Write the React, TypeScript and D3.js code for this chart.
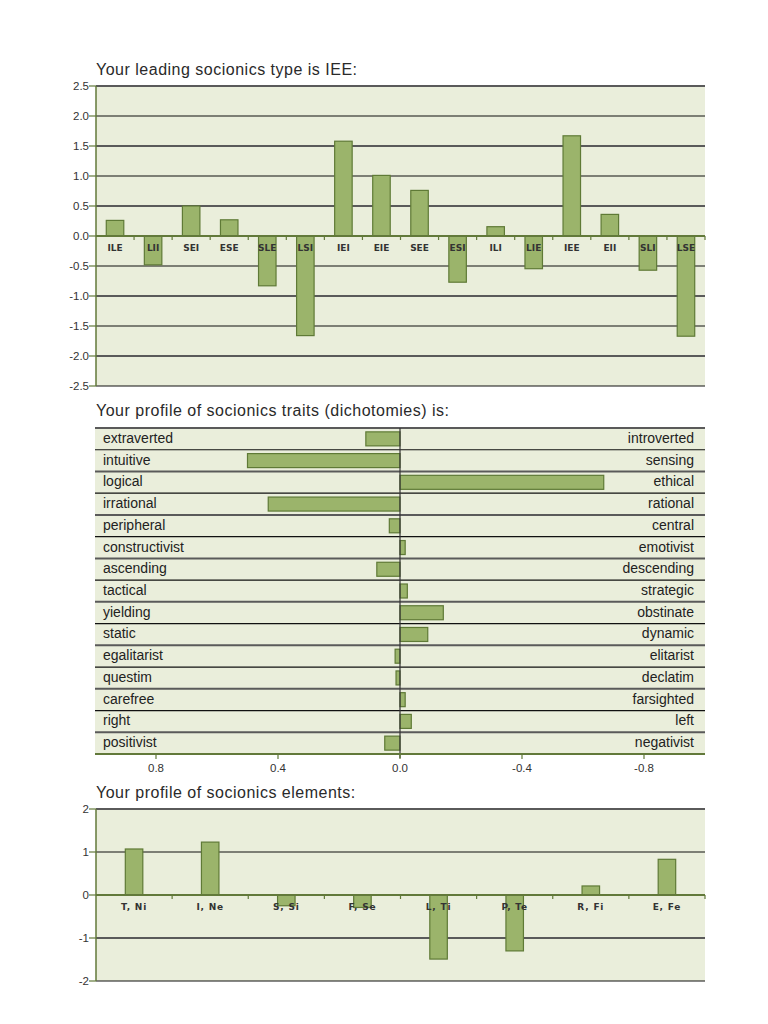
import React from 'react';
import * as d3 from 'd3';

// chart 1: socionics types
const typeNames = ['ILE', 'LII', 'SEI', 'ESE', 'SLE', 'LSI', 'IEI', 'EIE', 'SEE', 'ESI', 'ILI', 'LIE', 'IEE', 'EII', 'SLI', 'LSE'];
const typeScores = [0.26, -0.48, 0.5, 0.27, -0.83, -1.66, 1.58, 1.01, 0.76, -0.77, 0.155, -0.545, 1.67, 0.36, -0.57, -1.67];
const typeTicks = [2.5, 2.0, 1.5, 1.0, 0.5, 0.0, -0.5, -1.0, -1.5, -2.0, -2.5];

// chart 2: dichotomies (positive = left trait)
const leftTraits = ['extraverted', 'intuitive', 'logical', 'irrational', 'peripheral', 'constructivist', 'ascending', 'tactical', 'yielding', 'static', 'egalitarist', 'questim', 'carefree', 'right', 'positivist'];
const rightTraits = ['introverted', 'sensing', 'ethical', 'rational', 'central', 'emotivist', 'descending', 'strategic', 'obstinate', 'dynamic', 'elitarist', 'declatim', 'farsighted', 'left', 'negativist'];
const traitScores = [0.112, 0.5, -0.668, 0.432, 0.035, -0.017, 0.076, -0.024, -0.142, -0.091, 0.016, 0.013, -0.017, -0.037, 0.05];
const traitTicks = [0.8, 0.4, 0.0, -0.4, -0.8];

// chart 3: elements
const elementNames = ['T, Ni', 'I, Ne', 'S, Si', 'F, Se', 'L, Ti', 'P, Te', 'R, Fi', 'E, Fe'];
const elementScores = [1.07, 1.23, -0.25, -0.29, -1.49, -1.3, 0.21, 0.83];
const elementTicks = [2, 1, 0, -1, -2];

const BG = '#eaeedb';
const BAR = '#9bb46b';
const BAR_STROKE = '#5f7a36';
const AXIS = '#62793a';
const FONT = 'Liberation Sans, Arial, sans-serif';
const LABEL_FONT = 'DejaVu Sans, Verdana, sans-serif';

const PL = 96;
const PR = 705;

function gridStyle(i: number) {
  return i % 2 === 0 ? { stroke: '#5a5a5a', width: 2 } : { stroke: '#111', width: 1.2 };
}

function VerticalBars({ names, scores, ticks, top, bottom, fmt, title, labelSpacing }: {
  names: string[]; scores: number[]; ticks: number[]; top: number; bottom: number;
  fmt: (v: number) => string; title: string; labelSpacing: number;
}) {
  const y = d3.scaleLinear().domain([d3.min(ticks)!, d3.max(ticks)!]).range([bottom, top]);
  const x = d3.scaleBand().domain(names).range([PL, PR]);
  const barW = 17.5;
  const y0 = y(0);
  return (
    <g>
      <text x={PL} y={top - 11} fontFamily={FONT} fontSize={16} letterSpacing={0.5} fill="#2a2a2a">{title}</text>
      <rect x={PL} y={top} width={PR - PL} height={bottom - top} fill={BG} />
      {ticks.filter(t => t !== 0).map((t, i) => {
        const s = gridStyle(i);
        return <line key={t} x1={PL} x2={PR} y1={y(t)} y2={y(t)} stroke={s.stroke} strokeWidth={s.width} />;
      })}
      {names.map((n, i) => {
        const v = scores[i];
        const cx = x(n)! + x.bandwidth() / 2;
        return (
          <rect key={n} x={cx - barW / 2} y={Math.min(y(v), y0)} width={barW}
            height={Math.abs(y(v) - y0)} fill={BAR} stroke={BAR_STROKE} strokeWidth={1.2} />
        );
      })}
      <line x1={PL} x2={PR} y1={y0} y2={y0} stroke={AXIS} strokeWidth={2} />
      {names.map(n => (
        <line key={'t' + n} x1={x(n)! + x.bandwidth()} x2={x(n)! + x.bandwidth()} y1={y0} y2={y0 + 4}
          stroke={AXIS} strokeWidth={1.2} />
      ))}
      <line x1={PL} x2={PL} y1={top} y2={bottom} stroke={AXIS} strokeWidth={1.5} />
      {ticks.map(t => (
        <g key={'y' + t}>
          <line x1={PL - 7} x2={PL} y1={y(t)} y2={y(t)} stroke={AXIS} strokeWidth={1.2} />
          <text x={PL - 7} y={y(t) + 4} textAnchor="end" fontFamily={FONT} fontSize={11.5} fill="#333">{fmt(t)}</text>
        </g>
      ))}
      {names.map(n => (
        <text key={'l' + n} x={x(n)! + x.bandwidth() / 2} y={y0 + 15} textAnchor="middle" letterSpacing={labelSpacing}
          fontFamily={LABEL_FONT} fontSize={9} fontWeight="bold" fill="#333">{n}</text>
      ))}
    </g>
  );
}

function TraitBars() {
  const top = 428;
  const bottom = 754;
  const x = d3.scaleLinear().domain([1, -1]).range([95, PR]);
  const rows = d3.scaleBand().domain(leftTraits).range([top, bottom]);
  const x0 = x(0);
  const barH = 14;
  return (
    <g>
      <text x={PL} y={top - 12} fontFamily={FONT} fontSize={16} letterSpacing={0.5} fill="#2a2a2a">Your profile of socionics traits (dichotomies) is:</text>
      <rect x={95} y={top} width={PR - 95} height={bottom - top} fill={BG} />
      {leftTraits.map((t, i) => {
        const s = gridStyle(i);
        return <line key={'r' + t} x1={95} x2={PR} y1={rows(t)!} y2={rows(t)!} stroke={s.stroke} strokeWidth={s.width} />;
      })}
      {leftTraits.map((t, i) => {
        const v = traitScores[i];
        const cy = rows(t)! + rows.bandwidth() / 2;
        return (
          <rect key={'b' + t} x={Math.min(x(v), x0)} y={cy - barH / 2} width={Math.abs(x(v) - x0)}
            height={barH} fill={BAR} stroke={BAR_STROKE} strokeWidth={1.2} />
        );
      })}
      {leftTraits.map((t, i) => (
        <g key={'lbl' + t}>
          <text x={103} y={rows(t)! + rows.bandwidth() / 2 + 4} fontFamily={FONT} fontSize={14} fill="#222">{t}</text>
          <text x={694} y={rows(t)! + rows.bandwidth() / 2 + 4} textAnchor="end" fontFamily={FONT} fontSize={14} fill="#222">{rightTraits[i]}</text>
        </g>
      ))}
      <line x1={x0} x2={x0} y1={top} y2={bottom + 4} stroke="#333" strokeWidth={1.2} />
      <line x1={95} x2={PR} y1={bottom} y2={bottom} stroke={AXIS} strokeWidth={2} />
      {traitTicks.map(t => (
        <g key={'xt' + t}>
          <line x1={x(t)} x2={x(t)} y1={bottom} y2={bottom + 5} stroke={AXIS} strokeWidth={1.2} />
          <text x={x(t)} y={bottom + 18} textAnchor="middle" fontFamily={FONT} fontSize={11.5} fill="#333">{t.toFixed(1)}</text>
        </g>
      ))}
    </g>
  );
}

export default function App() {
  return (
    <svg width={768} height={1024} style={{ position: 'absolute', left: 0, top: 0, background: '#fff' }}>
      <VerticalBars names={typeNames} scores={typeScores} ticks={typeTicks} top={86} bottom={386} labelSpacing={0}
        fmt={v => v.toFixed(1)} title="Your leading socionics type is IEE:" />
      <TraitBars />
      <VerticalBars names={elementNames} scores={elementScores} ticks={elementTicks} top={809} bottom={981} labelSpacing={0.8}
        fmt={v => String(v)} title="Your profile of socionics elements:" />
    </svg>
  );
}
